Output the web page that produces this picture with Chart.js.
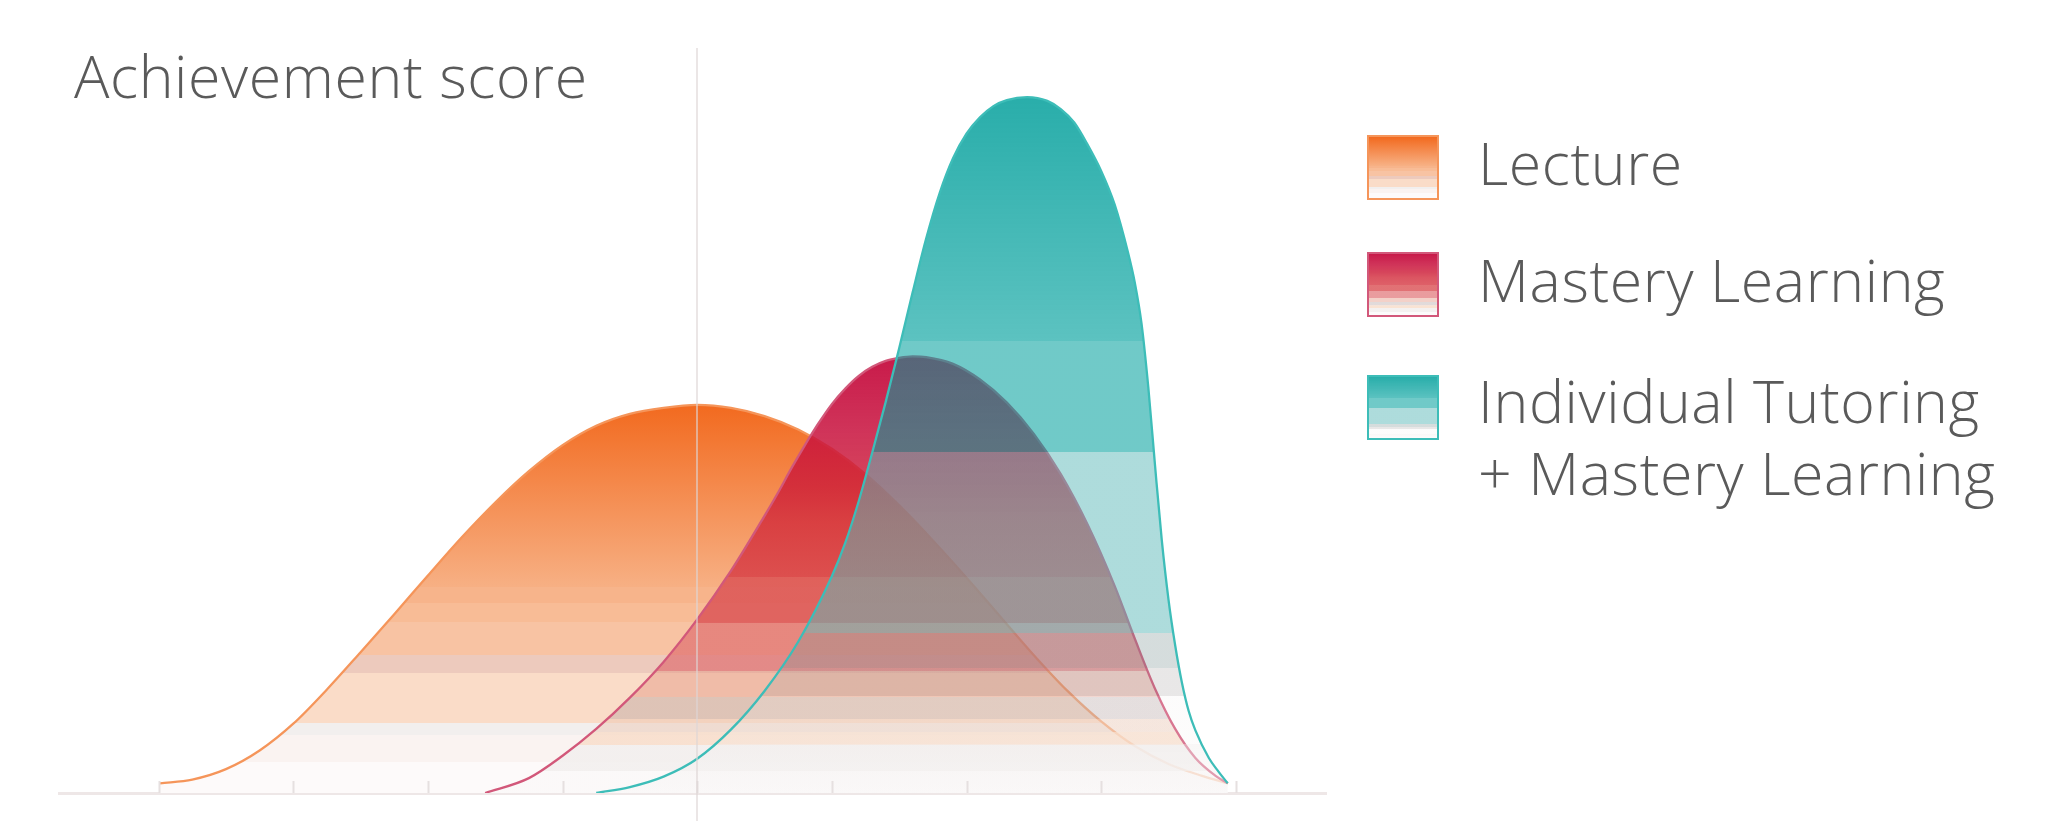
<!DOCTYPE html>
<html>
<head>
<meta charset="utf-8">
<title>Achievement score</title>
<script src="https://cdn.jsdelivr.net/npm/chart.js@4.4.1/dist/chart.umd.min.js"></script>
<style>
  html, body { margin: 0; padding: 0; background: #fff; }
  #wrap { position: relative; width: 2048px; height: 821px; overflow: hidden;
          font-family: "Open Sans", Lato, sans-serif; font-weight: 300; color: #5a5a5a; }
  #chart { position: absolute; left: 0; top: 0; }
  .title { position: absolute; left: 74px; top: 46px; font-size: 59px; letter-spacing: 0.6px; line-height: 1; white-space: nowrap; }
  .legend-item { position: absolute; left: 1367px; }
  .swatch { position: absolute; left: 0; top: 0; width: 68px; height: 61px; border: 2px solid; }
  .label { position: absolute; left: 111px; font-size: 59px; letter-spacing: 0.6px; line-height: 72px; white-space: nowrap; }
</style>
</head>
<body>
<div id="wrap">
  <canvas id="chart" width="2048" height="821"></canvas>
  <div class="title">Achievement score</div>
  <div id="legend"></div>
</div>
<script>
// x in standard deviations from the lecture mean, y = relative frequency
const lectureX = [-3.99, -3.75, -3.5, -3.25, -3, -2.75, -2.5, -2.25, -2, -1.75, -1.5, -1.25, -1, -0.75, -0.5, -0.25, 0,
  0.25, 0.5, 0.75, 1, 1.25, 1.5, 1.75, 2, 2.25, 2.5, 2.75, 3, 3.25, 3.5, 3.75, 3.94];
const lectureY = [0.13, 0.18, 0.32, 0.57, 0.93, 1.39, 1.89, 2.40, 2.92, 3.43, 3.90, 4.32, 4.67, 4.93, 5.09, 5.17, 5.21,
  5.17, 5.06, 4.88, 4.62, 4.28, 3.86, 3.39, 2.89, 2.37, 1.85, 1.37, 0.96, 0.63, 0.39, 0.23, 0.13];

const masteryX = [-1.575, -1.25, -1, -0.75, -0.5, -0.25, 0, 0.25, 0.5, 0.6, 0.7, 0.8, 0.9, 1, 1.1, 1.2, 1.3, 1.4, 1.5,
  1.6, 1.7, 1.9, 2.1, 2.3, 2.5, 2.7, 2.9, 3.1, 3.25, 3.4, 3.55, 3.7, 3.85, 3.94];
const masteryY = [0, 0.2, 0.5, 0.86, 1.28, 1.76, 2.33, 2.98, 3.72, 4.03, 4.36, 4.67, 4.96, 5.22, 5.43, 5.60, 5.72, 5.80, 5.84,
  5.86, 5.85, 5.76, 5.55, 5.24, 4.82, 4.28, 3.60, 2.78, 2.07, 1.40, 0.86, 0.47, 0.23, 0.13];

const tutoringX = [-0.75, -0.5, -0.25, 0, 0.25, 0.5, 0.75, 1, 1.1, 1.2, 1.3, 1.4, 1.5, 1.6, 1.7, 1.8, 1.9, 2, 2.1, 2.2, 2.3, 2.45,
  2.6, 2.7, 2.8, 2.9, 3, 3.1, 3.2, 3.25, 3.3, 3.35, 3.4, 3.45, 3.5, 3.55, 3.6, 3.65, 3.7, 3.8, 3.87, 3.94];
const tutoringY = [0, 0.08, 0.22, 0.46, 0.85, 1.37, 2.03, 2.91, 3.36, 3.92, 4.57, 5.25, 5.97, 6.72, 7.44, 8.05, 8.52, 8.85, 9.07, 9.22, 9.30, 9.34,
  9.29, 9.18, 9.0, 8.7, 8.35, 7.9, 7.25, 6.85, 6.3, 5.45, 4.4, 3.4, 2.6, 1.98, 1.48, 1.1, 0.84, 0.47, 0.29, 0.13];

const legendLines = [['Lecture'], ['Mastery Learning'], ['Individual Tutoring', '+ Mastery Learning']];

// banded gradients, offsets run from each curve's peak (0) down to the axis (1)
const lectureStopAt = [0, 0.47, 0.47, 0.51, 0.51, 0.56, 0.56, 0.645, 0.645, 0.69, 0.69, 0.82, 0.82, 0.85, 0.85, 0.92, 0.92, 1];
const lectureStopColor = ['#F26A1F', '#F7B084', '#F7B48B', '#F7B48B', '#F8BC96', '#F8BC96', '#F8C3A3', '#F8C3A3',
  '#EDCABD', '#EDCABD', '#FADCC8', '#FADCC8', '#F2EFEE', '#F2EFEE', '#FAF3F1', '#FAF3F1', '#FDFAFA', '#FDFAFA'];

const masteryStopAt = [0, 0.17, 0.30, 0.38, 0.505, 0.505, 0.61, 0.61, 0.72, 0.72, 0.78, 0.78, 0.83, 0.83, 0.86, 0.86,
  0.89, 0.89, 0.95, 0.95, 1];
const masteryStopColor = ['rgba(197,14,64,0.95)', 'rgba(200,18,62,0.86)', 'rgba(205,28,55,0.82)', 'rgba(210,42,58,0.8)',
  'rgba(214,56,66,0.8)', 'rgba(218,78,82,0.8)', 'rgba(218,78,82,0.8)', 'rgba(222,105,108,0.66)', 'rgba(222,105,108,0.66)',
  'rgba(225,140,120,0.4)', 'rgba(225,140,120,0.4)', 'rgba(170,150,150,0.35)', 'rgba(170,150,150,0.35)',
  'rgba(236,200,180,0.5)', 'rgba(236,200,180,0.5)', 'rgba(248,220,200,0.8)', 'rgba(248,220,200,0.8)',
  'rgba(242,239,238,0.85)', 'rgba(242,239,238,0.85)', 'rgba(250,248,248,0.6)', 'rgba(250,248,248,0.6)'];

const tutoringStopAt = [0, 0.35, 0.35, 0.51, 0.51, 0.77, 0.77, 0.82, 0.82, 0.86, 0.86, 0.93, 0.93, 1];
const tutoringStopColor = ['rgba(0,158,154,0.84)', 'rgba(0,160,157,0.64)', 'rgba(0,160,157,0.56)', 'rgba(0,160,157,0.56)',
  'rgba(93,185,185,0.5)', 'rgba(93,185,185,0.5)', 'rgba(125,148,148,0.32)', 'rgba(125,148,148,0.32)',
  'rgba(165,160,160,0.25)', 'rgba(165,160,160,0.25)', 'rgba(242,239,238,0.2)', 'rgba(242,239,238,0.2)',
  'rgba(242,239,238,0.5)', 'rgba(248,246,246,0.4)'];

const lineColors = ['#F5955A', '#D2587A', '#3DBDB8'];

const toPoints = (xs, ys) => xs.map((x, i) => ({ x: x, y: ys[i] }));

function areaFill(stopAt, stopColor, values) {
  return (context) => {
    const chart = context.chart;
    const { chartArea, scales } = chart;
    if (!chartArea) return stopColor[0];
    const top = scales.y.getPixelForValue(Math.max(...values));
    const bottom = scales.y.getPixelForValue(0);
    const g = chart.ctx.createLinearGradient(0, top, 0, bottom);
    stopAt.forEach((o, i) => g.addColorStop(o, stopColor[i]));
    return g;
  };
}

// inward tick marks and the zero line through the whole picture
const axisDecor = {
  id: 'axisDecor',
  afterDatasetsDraw(chart) {
    const { ctx, chartArea, scales: { x } } = chart;
    ctx.save();
    ctx.lineWidth = 2;
    ctx.strokeStyle = '#E6E0E0';
    ctx.beginPath();
    x.ticks.forEach((t) => {
      const px = Math.round(x.getPixelForValue(t.value)) + 0.5;
      ctx.moveTo(px, chartArea.bottom);
      ctx.lineTo(px, chartArea.bottom - 12);
    });
    ctx.stroke();
    const z = Math.round(x.getPixelForValue(0));
    ctx.strokeStyle = 'rgba(222,214,214,0.6)';
    ctx.beginPath();
    ctx.moveTo(z, chartArea.top);
    ctx.lineTo(z, chart.height);
    ctx.stroke();
    ctx.restore();
  }
};

const datasets = [
  { label: 'Lecture', data: toPoints(lectureX, lectureY), order: 2,
    backgroundColor: areaFill(lectureStopAt, lectureStopColor, lectureY), borderColor: lineColors[0] },
  { label: 'Mastery Learning', data: toPoints(masteryX, masteryY), order: 1,
    backgroundColor: areaFill(masteryStopAt, masteryStopColor, masteryY), borderColor: lineColors[1] },
  { label: 'Individual Tutoring + Mastery Learning', data: toPoints(tutoringX, tutoringY), order: 0,
    backgroundColor: areaFill(tutoringStopAt, tutoringStopColor, tutoringY), borderColor: lineColors[2] }
].map((d) => Object.assign(d, {
  fill: 'origin', borderWidth: 2.3, pointRadius: 0, cubicInterpolationMode: 'monotone'
}));

new Chart(document.getElementById('chart'), {
  type: 'line',
  data: { datasets: datasets },
  options: {
    responsive: false,
    animation: false,
    devicePixelRatio: 1,
    layout: { padding: { left: 59, right: 722, top: 48, bottom: 28 } },
    plugins: { legend: { display: false }, tooltip: { enabled: false } },
    scales: {
      x: {
        type: 'linear', min: -4.74, max: 4.67,
        ticks: { display: false, stepSize: 1, includeBounds: false },
        grid: { display: false, drawTicks: false },
        border: { display: true, color: '#EEE7E7', width: 3 }
      },
      y: { display: false, min: 0, max: 10 }
    }
  },
  plugins: [axisDecor]
});

// HTML legend with the same banded gradients
const legend = document.getElementById('legend');
const swatchStops = [[lectureStopAt, lectureStopColor], [masteryStopAt, masteryStopColor], [tutoringStopAt, tutoringStopColor]];
const legendTops = [135, 252, 375];
legendLines.forEach((lines, i) => {
  const item = document.createElement('div');
  item.className = 'legend-item';
  item.style.top = legendTops[i] + 'px';
  const sw = document.createElement('div');
  sw.className = 'swatch';
  const [at, col] = swatchStops[i];
  sw.style.borderColor = lineColors[i];
  sw.style.background = 'linear-gradient(to bottom, ' + at.map((o, k) => col[k] + ' ' + (o * 100) + '%').join(', ') + ')';
  const lab = document.createElement('div');
  lab.className = 'label';
  lab.style.top = (i === 2 ? -11 : -9) + 'px';
  lab.innerHTML = lines.join('<br>');
  item.appendChild(sw);
  item.appendChild(lab);
  legend.appendChild(item);
});
</script>
</body>
</html>
